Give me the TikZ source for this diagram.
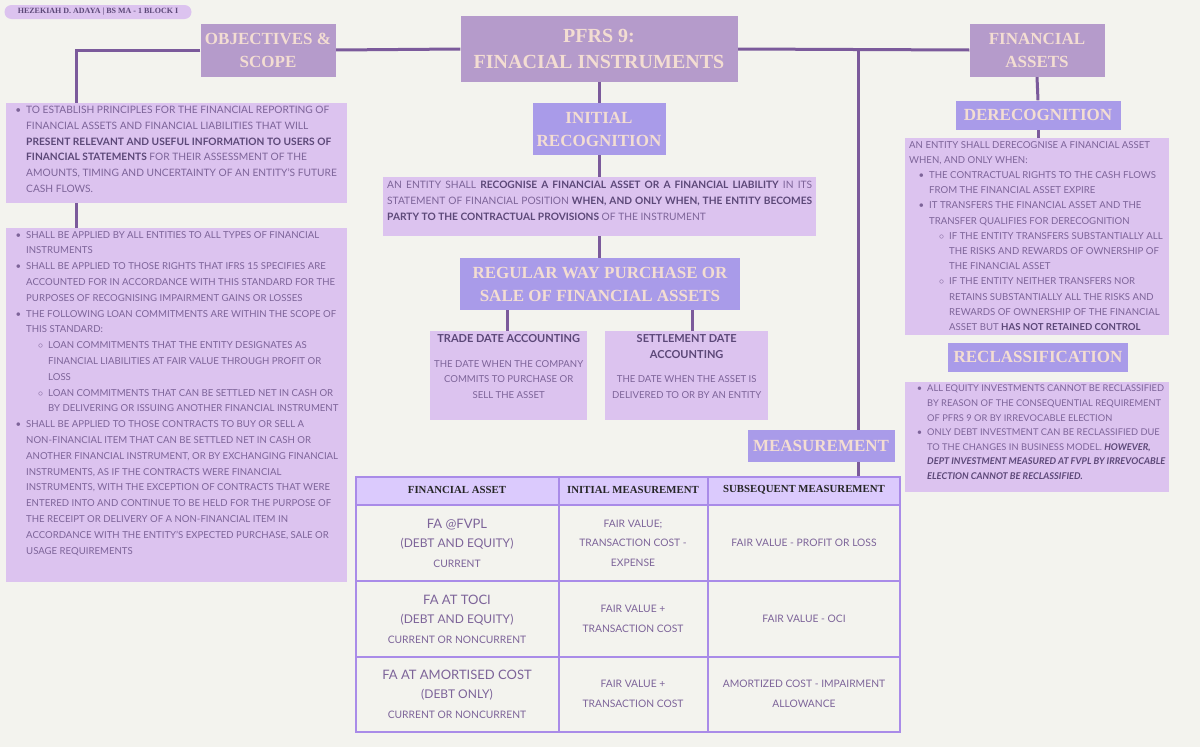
\documentclass[tikz,border=0pt]{standalone}
\usepackage{fontspec}
\setmainfont{Lato}
\newfontfamily\headfont{Liberation Serif}
\usepackage{enumitem}
\usetikzlibrary{positioning}
\definecolor{Paper}{HTML}{F3F3EE}
\definecolor{Plum}{HTML}{B59BCB}
\definecolor{Lilac}{HTML}{A99BE9}
\definecolor{Mauve}{HTML}{DCC3EF}
\definecolor{Cream}{HTML}{F3DDD2}
\definecolor{Ink}{HTML}{7D6499}
\definecolor{InkDark}{HTML}{5C4878}
\definecolor{Stem}{HTML}{7B5A9B}
\definecolor{Grid}{HTML}{A98BE8}
\definecolor{HeadRow}{HTML}{DBCAFD}
\newcommand{\bb}[1]{\textbf{\color{InkDark}#1}}
\newcommand{\boxed}[3]{\begin{minipage}[t][#1pt][t]{#2pt}\hyphenpenalty=10000\raggedright #3\end{minipage}}
\newcommand{\fulljust}{\leftskip=0pt\rightskip=0pt\parfillskip=0pt plus 1fil\relax}
\setlist{nosep,leftmargin=16pt,label=\textbullet}
\pgfdeclarelayer{bg}
\pgfdeclarelayer{edges}
\pgfsetlayers{bg,edges,main}

\begin{document}
\begin{tikzpicture}[x=1pt, y=-1pt,
  title/.style={fill=Plum, text=Cream, font=\headfont\bfseries\fontsize{17}{23}\selectfont, align=center, inner sep=2pt},
  head/.style={fill=Lilac, text=Cream, font=\headfont\bfseries\fontsize{17}{23}\selectfont, align=center, inner sep=2pt},
  note/.style={fill=Mauve, text=Ink, font=\fontsize{10.2}{15.8}\selectfont, anchor=north west, inner xsep=4pt, inner ysep=3pt},
  small/.style={font=\fontsize{9.6}{15.8}\selectfont},
  tight/.style={font=\fontsize{9.6}{15.2}\selectfont},
  cell/.style={text=Ink, font=\fontsize{10.3}{19.5}\selectfont, align=center},
  link/.style={draw=Stem, line width=3pt}
  ]
\begin{pgfonlayer}{bg}
\fill [Paper] (0,0) rectangle (1200,747);
\end{pgfonlayer}

\node [fill=Mauve, rounded corners=7pt, minimum width=187pt, minimum height=14pt, text=InkDark, font=\headfont\bfseries\fontsize{8}{9}\selectfont] (author) at (98,12) {HEZEKIAH D. ADAYA | BS MA - 1 BLOCK I};

\node [title, minimum width=135pt, minimum height=53pt] (obj) at (268,50) {OBJECTIVES \&\\SCOPE};
\node [title, minimum width=277pt, minimum height=66pt, font=\headfont\bfseries\fontsize{20}{26}\selectfont] (pfrs) at (599,49) {PFRS 9:\\FINACIAL INSTRUMENTS};
\node [title, minimum width=135pt, minimum height=53pt] (fa) at (1037,50) {FINANCIAL\\ASSETS};

% objectives and scope
\node [note] (aim) at (6,103) {\boxed{94}{333}{%
\begin{itemize}
\item TO ESTABLISH PRINCIPLES FOR THE FINANCIAL REPORTING OF FINANCIAL ASSETS AND FINANCIAL LIABILITIES THAT WILL \bb{PRESENT RELEVANT AND USEFUL INFORMATION TO USERS OF FINANCIAL STATEMENTS} FOR THEIR ASSESSMENT OF THE AMOUNTS, TIMING AND UNCERTAINTY OF AN ENTITY'S FUTURE CASH FLOWS.
\end{itemize}}};
\node [note, small] (scope) at (6,228) {\boxed{348}{333}{%
\begin{itemize}
\item SHALL BE APPLIED BY ALL ENTITIES TO ALL TYPES OF FINANCIAL INSTRUMENTS
\item SHALL BE APPLIED TO THOSE RIGHTS THAT IFRS 15 SPECIFIES ARE ACCOUNTED FOR IN ACCORDANCE WITH THIS STANDARD FOR THE PURPOSES OF RECOGNISING IMPAIRMENT GAINS OR LOSSES
\item THE FOLLOWING LOAN COMMITMENTS ARE WITHIN THE SCOPE OF THIS STANDARD:
  \begin{itemize}[label=$\circ$, leftmargin=22pt]
  \item LOAN COMMITMENTS THAT THE ENTITY DESIGNATES AS FINANCIAL LIABILITIES AT FAIR VALUE THROUGH PROFIT OR LOSS
  \item LOAN COMMITMENTS THAT CAN BE SETTLED NET IN CASH OR BY DELIVERING OR ISSUING ANOTHER FINANCIAL INSTRUMENT
  \end{itemize}
\item SHALL BE APPLIED TO THOSE CONTRACTS TO BUY OR SELL A NON-FINANCIAL ITEM THAT CAN BE SETTLED NET IN CASH OR ANOTHER FINANCIAL INSTRUMENT, OR BY EXCHANGING FINANCIAL INSTRUMENTS, AS IF THE CONTRACTS WERE FINANCIAL INSTRUMENTS, WITH THE EXCEPTION OF CONTRACTS THAT WERE ENTERED INTO AND CONTINUE TO BE HELD FOR THE PURPOSE OF THE RECEIPT OR DELIVERY OF A NON-FINANCIAL ITEM IN ACCORDANCE WITH THE ENTITY'S EXPECTED PURCHASE, SALE OR USAGE REQUIREMENTS
\end{itemize}}};

% initial recognition
\node [head, minimum width=133pt, minimum height=52pt] (init) at (599,129) {INITIAL\\RECOGNITION};
\node [note] (rule) at (383,177) {\boxed{53}{425}{\vspace{1pt}\fulljust AN ENTITY SHALL \bb{RECOGNISE A FINANCIAL ASSET OR A FINANCIAL LIABILITY} IN ITS STATEMENT OF FINANCIAL POSITION \bb{WHEN, AND ONLY WHEN, THE ENTITY BECOMES PARTY TO THE CONTRACTUAL PROVISIONS} OF THE INSTRUMENT}};
\node [head, minimum width=280pt, minimum height=52pt] (regular) at (600,284) {REGULAR WAY PURCHASE OR\\SALE OF FINANCIAL ASSETS};
\node [note, small] (trade) at (430,331) {\boxed{83}{149}{\centering\bb{\fontsize{11}{16}\selectfont TRADE DATE ACCOUNTING}\\[9pt]THE DATE WHEN THE COMPANY COMMITS TO PURCHASE OR SELL THE ASSET}};
\node [note, small] (settle) at (605,331) {\boxed{83}{155}{\centering\bb{\fontsize{11}{16}\selectfont SETTLEMENT DATE\\ACCOUNTING}\\[9pt]THE DATE WHEN THE ASSET IS DELIVERED TO OR BY AN ENTITY}};

% financial assets
\node [head, minimum width=165pt, minimum height=29pt] (derec) at (1038,115) {DERECOGNITION};
\node [note, tight] (derectxt) at (905,138) {\boxed{191}{256}{AN ENTITY SHALL DERECOGNISE A FINANCIAL ASSET WHEN, AND ONLY WHEN:
\begin{itemize}[leftmargin=20pt]
\item THE CONTRACTUAL RIGHTS TO THE CASH FLOWS FROM THE FINANCIAL ASSET EXPIRE
\item IT TRANSFERS THE FINANCIAL ASSET AND THE TRANSFER QUALIFIES FOR DERECOGNITION
  \begin{itemize}[label=$\circ$, leftmargin=20pt]
  \item IF THE ENTITY TRANSFERS SUBSTANTIALLY ALL THE RISKS AND REWARDS OF OWNERSHIP OF THE FINANCIAL ASSET
  \item IF THE ENTITY NEITHER TRANSFERS NOR RETAINS SUBSTANTIALLY ALL THE RISKS AND REWARDS OF OWNERSHIP OF THE FINANCIAL ASSET BUT \bb{HAS NOT RETAINED CONTROL}
  \end{itemize}
\end{itemize}}};
\node [head, minimum width=180pt, minimum height=29pt] (reclass) at (1038,357) {RECLASSIFICATION};
\node [note, font=\fontsize{9.3}{14.6}\selectfont] (reclasstxt) at (905,382) {\boxed{104}{256}{%
\begin{itemize}[leftmargin=18pt]
\item ALL EQUITY INVESTMENTS CANNOT BE RECLASSIFIED BY REASON OF THE CONSEQUENTIAL REQUIREMENT OF PFRS 9 OR BY IRREVOCABLE ELECTION
\item ONLY DEBT INVESTMENT CAN BE RECLASSIFIED DUE TO THE CHANGES IN BUSINESS MODEL. \bb{\itshape HOWEVER, DEPT INVESTMENT MEASURED AT FVPL BY IRREVOCABLE ELECTION CANNOT BE RECLASSIFIED.}
\end{itemize}}};

% measurement table
\node [head, minimum width=147pt, minimum height=32pt] (measure) at (821,446) {MEASUREMENT};
\fill [HeadRow] (356,477) rectangle (900,505);
\draw [Grid, line width=2.5pt] (356,477) rectangle (900,732)
  (356,505) -- (900,505) (356,581) -- (900,581) (356,657) -- (900,657)
  (559,477) -- (559,732) (708,477) -- (708,732);
\coordinate (tbltop) at (858,477);
\foreach \x/\txt [count=\i] in {457/FINANCIAL ASSET, 633/INITIAL MEASUREMENT, 804/SUBSEQUENT MEASUREMENT}
  \node [text=black!85, font=\headfont\bfseries\fontsize{10.8}{12}\selectfont] (hd\i) at (\x,490) {\txt};
\node [cell] (a1) at (457,543) {{\fontsize{13}{19}\selectfont FA @FVPL}\\{\fontsize{12}{19}\selectfont (DEBT AND EQUITY)}\\CURRENT};
\node [cell] (b1) at (633,543) {FAIR VALUE;\\TRANSACTION COST -\\EXPENSE};
\node [cell] (c1) at (804,543) {FAIR VALUE - PROFIT OR LOSS};
\node [cell] (a2) at (457,619) {{\fontsize{13}{19}\selectfont FA AT TOCI}\\{\fontsize{12}{19}\selectfont (DEBT AND EQUITY)}\\CURRENT OR NONCURRENT};
\node [cell] (b2) at (633,619) {FAIR VALUE +\\TRANSACTION COST};
\node [cell] (c2) at (804,619) {FAIR VALUE - OCI};
\node [cell] (a3) at (457,694) {{\fontsize{13}{19}\selectfont FA AT AMORTISED COST}\\{\fontsize{12}{19}\selectfont (DEBT ONLY)}\\CURRENT OR NONCURRENT};
\node [cell] (b3) at (633,694) {FAIR VALUE +\\TRANSACTION COST};
\node [cell] (c3) at (804,694) {AMORTIZED COST - IMPAIRMENT\\ALLOWANCE};

\begin{pgfonlayer}{edges}
\draw [link] (obj.west) -| ([xshift=70pt]aim.north west);
\draw [link] ([xshift=70pt]aim.south west) -- ([xshift=70pt]scope.north west);
\draw [link] (obj.east) -- (pfrs.west);
\draw [link] (pfrs.east) -- (fa.west);
\draw [link] (pfrs.east -| tbltop) -- (tbltop);
\draw [link] (pfrs.south) -- (init.north);
\draw [link] (init.south) -- (rule.north -| init.south);
\draw [link] (rule.south -| init.south) -- (regular.north -| init.south);
\draw [link] (regular.south -| trade.north) ++(-1,0) -- ([xshift=-1pt]trade.north);
\draw [link] (regular.south -| settle.north) ++(6,0) -- ([xshift=6pt]settle.north);
\draw [link] (fa.south) -- (derec.north);
\draw [link] (derec.south) -- (derectxt.north -| derec.south);
\end{pgfonlayer}
\end{tikzpicture}
\end{document}
